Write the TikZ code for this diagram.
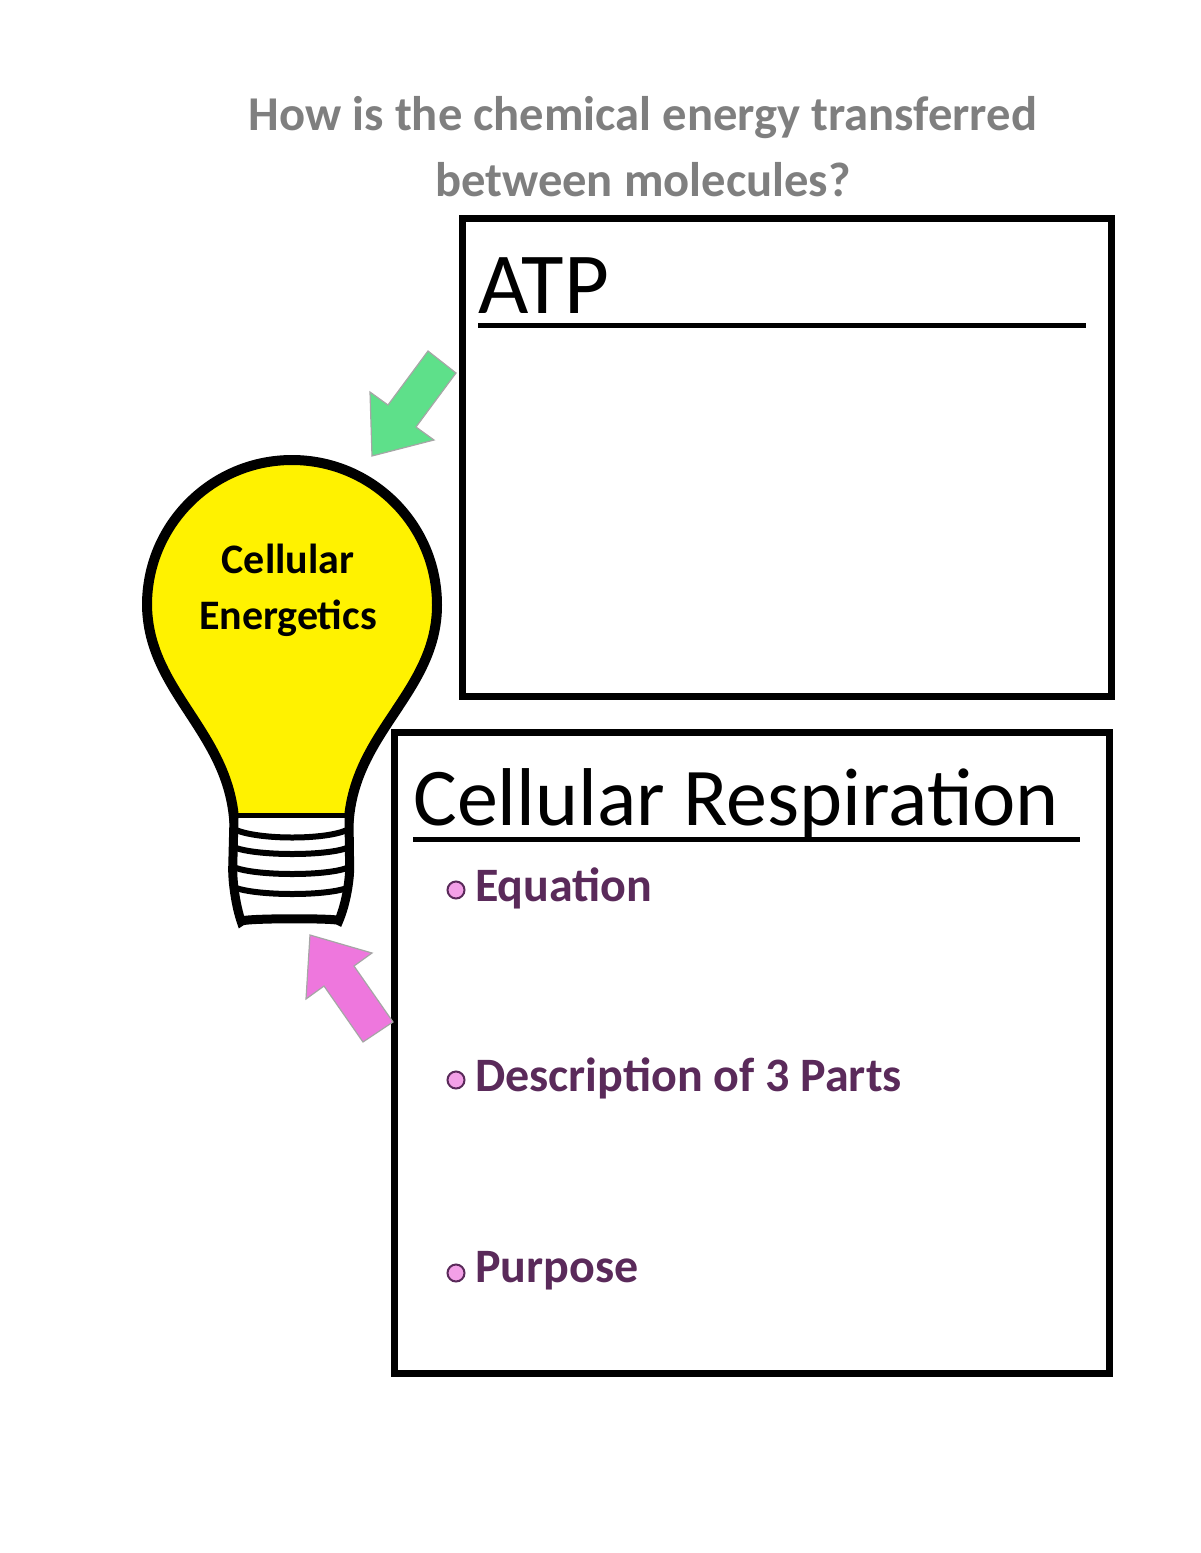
\documentclass[tikz,border=0pt]{standalone}
\usepackage{fontspec}
\setmainfont{Carlito}
\definecolor{titlegray}{HTML}{7F7F7F}
\definecolor{bulbyellow}{HTML}{FFF200}
\definecolor{arrgreen}{HTML}{5EE08A}
\definecolor{arrpink}{HTML}{EE77DD}
\definecolor{bulletpurple}{HTML}{5A2A5A}
\tikzset{
  frame/.style={draw=black,line width=3.5pt},
  fatarrow/.style={draw=gray!70,line width=0.6pt},
  bullet/.style={circle,fill=arrpink!70,draw=bulletpurple,line width=1pt,minimum size=8.5pt,inner sep=0pt},
  btext/.style={anchor=west,text=bulletpurple,font=\fontsize{24}{28}\selectfont\bfseries}
}
\begin{document}
\begin{tikzpicture}[x=0.5pt,y=-0.5pt]
\useasboundingbox (0,0) rectangle (1200,1553);
\node[text=titlegray,font=\fontsize{24.3}{33}\selectfont\bfseries,align=center] (title) at (643,147) {How is the chemical energy transferred\\between molecules?};
% ATP box
\draw[frame] (462,218) rectangle (1111,696);
\node[anchor=base west,font=\fontsize{43.5}{46}\selectfont,inner sep=0pt] (atp) at (478,313) {ATP};
\draw[line width=2.5pt] (478,325) -- (1086,325);
% respiration box
\draw[frame] (394,732) rectangle (1109,1373);
\node[anchor=base west,font=\fontsize{41}{44}\selectfont,inner sep=0pt] (cr) at (413,825) {Cellular Respiration};
\draw[line width=2.5pt] (413,839) -- (1080,839);
\node[bullet] (b1) at (456,890) {};
\node[btext] (t1) at (468,888) {Equation};
\node[bullet] (b2) at (456,1080) {};
\node[btext] (t2) at (468,1078) {Description of 3 Parts};
\node[bullet] (b3) at (456,1273) {};
\node[btext] (t3) at (468,1271) {Purpose};
% bulb
\draw[line width=5pt,fill=bulbyellow] (234,818) .. controls (226,730) and (148,690) .. (147,605)
  arc[start angle=180,end angle=360,radius=145] .. controls (437,690) and (357,730) .. (349,818) -- cycle;
\draw[line width=4.5pt,fill=white,rounded corners=14pt] (234,818) -- (232,895) .. controls (240,918) and (340,918) .. (350,895) -- (349,818);
\foreach \y in {848,868,888} \draw[line width=3pt] (236,\y) .. controls (260,\y+8) and (325,\y+8) .. (347,\y);
\draw[line width=3pt] (236,830) .. controls (260,840) and (325,840) .. (347,830);
\node[font=\fontsize{21}{28}\selectfont\bfseries,align=center] (ce) at (288,590) {Cellular\\Energetics};
% arrows
\draw[fatarrow,fill=arrgreen] (456,373) -- (416,427) -- (434,440) -- (372,456) -- (370,392) -- (388,405) -- (428,351) -- cycle;
\draw[fatarrow,fill=arrpink] (393,1022) -- (354,966) -- (372,953) -- (310,935) -- (306,999) -- (324,986) -- (363,1042) -- cycle;
\end{tikzpicture}
\end{document}
